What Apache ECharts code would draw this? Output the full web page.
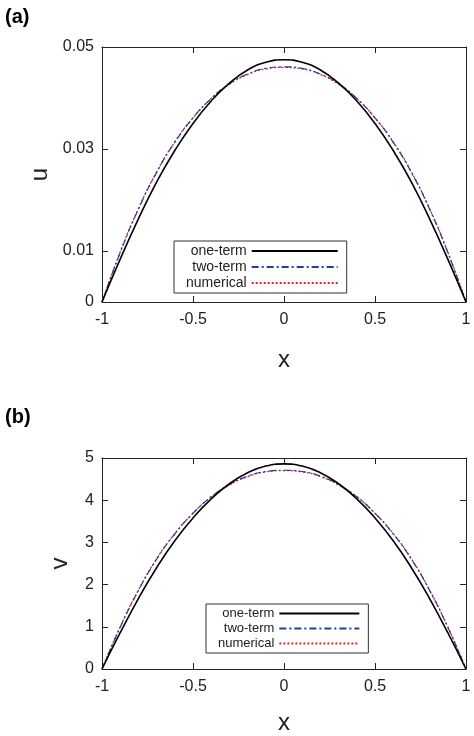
<!DOCTYPE html>
<html><head><meta charset="utf-8">
<script src="https://cdn.jsdelivr.net/npm/echarts@6/dist/echarts.min.js"></script>
<style>html,body{margin:0;padding:0;background:#fff}#c{width:474px;height:736px}</style>
</head><body><div id="c"></div>
<script>
const xs = [-1,-0.9,-0.8,-0.7,-0.6,-0.5,-0.4,-0.3,-0.2,-0.1,0,0.1,0.2,0.3,0.4,0.5,0.6,0.7,0.8,0.9,1];
const uOne = [0,0.0084,0.0163,0.0235,0.0297,0.0350,0.0394,0.0429,0.0455,0.0470,0.0475,0.0470,0.0455,0.0429,0.0394,0.0350,0.0297,0.0235,0.0163,0.0084,0];
const uTwo = [0,0.0097,0.0182,0.0254,0.0313,0.0361,0.0399,0.0428,0.0447,0.0458,0.0461,0.0458,0.0447,0.0428,0.0399,0.0361,0.0313,0.0254,0.0182,0.0097,0];
const uNum = [0,0.0098,0.0183,0.0255,0.0314,0.0361,0.0399,0.0427,0.0446,0.0457,0.0460,0.0457,0.0446,0.0427,0.0399,0.0361,0.0314,0.0255,0.0183,0.0098,0];
const vOne = [0,0.86,1.67,2.40,3.04,3.58,4.03,4.39,4.65,4.81,4.86,4.81,4.65,4.39,4.03,3.58,3.04,2.40,1.67,0.86,0];
const vTwo = [0,0.99,1.86,2.60,3.20,3.69,4.08,4.37,4.57,4.68,4.71,4.68,4.57,4.37,4.08,3.69,3.20,2.60,1.86,0.99,0];
const vNum = [0,1.00,1.87,2.61,3.21,3.69,4.08,4.36,4.56,4.67,4.70,4.67,4.56,4.36,4.08,3.69,3.21,2.61,1.87,1.00,0];
const uTicks = [0,0.01,0.03,0.05];
const vTicks = [0,1,2,3,4,5];
const xTicks = [-1,-0.5,0,0.5,1];
const names = ['one-term','two-term','numerical'];

const F = 'Liberation Sans, Arial, sans-serif';
const pair = (a,b)=>a.map((v,i)=>[v,b[i]]);
const grids = [{left:102,right:8,top:47,height:255},{left:102,right:8,top:458,height:267}];
const xAxis=[], yAxis=[];
[0,1].forEach(g=>{
  const base = {type:'value',min:-1,max:1,gridIndex:g,
    axisLine:{onZero:false,lineStyle:{color:'#222',width:1}},axisTick:{inside:true,length:6,lineStyle:{color:'#222'},customValues:xTicks},
    splitLine:{show:false}};
  xAxis.push(Object.assign({},base,{position:'bottom',name:'x',nameLocation:'middle',nameGap:g?42:46,
    nameTextStyle:{fontFamily:F,fontSize:24,color:'#222'},
    axisLabel:{fontFamily:F,fontSize:16,color:'#222',margin:10,customValues:xTicks,formatter:v=>String(v)}}));
  xAxis.push(Object.assign({},base,{position:'top',axisLabel:{show:false}}));
  const yt = g?vTicks:uTicks;
  const ybase = {type:'value',min:0,max:g?5:0.05,gridIndex:g,
    axisLine:{onZero:false,lineStyle:{color:'#222',width:1}},axisTick:{inside:true,length:6,lineStyle:{color:'#222'},customValues:yt},
    splitLine:{show:false}};
  yAxis.push(Object.assign({},ybase,{position:'left',name:g?'v':'u',nameLocation:'middle',nameGap:g?30:28,nameRotate:90,
    nameTextStyle:{fontFamily:F,fontSize:24,color:'#222'},
    axisLabel:{fontFamily:F,fontSize:16,color:'#222',margin:8,customValues:yt,formatter:v=>String(v)}}));
  yAxis.push(Object.assign({},ybase,{position:'right',axisLabel:{show:false}}));
});
const styles=[{color:'#000',width:1.6,type:'solid'},{color:'#2040a0',width:1.2,type:[7,3,2,3]},{color:'#e02020',width:1.3,type:[2,2]}];
const data=[[uOne,uTwo,uNum],[vOne,vTwo,vNum]];
const series=[];
[0,1].forEach(g=>names.forEach((n,i)=>series.push({type:'line',name:n,xAxisIndex:2*g,yAxisIndex:2*g,
  data:pair(xs,data[g][i]),smooth:true,symbol:'none',lineStyle:styles[i],itemStyle:{color:styles[i].color},z:3-i})));
const leg=(l,t,w,gap,fs)=>({data:names,left:l,top:t,orient:'vertical',align:'right',itemWidth:w,itemHeight:10,itemGap:gap,
  borderColor:'#333',borderWidth:1,padding:[3,8,3,12],backgroundColor:'#fff',selectedMode:false,
  itemStyle:{opacity:0},
  textStyle:{fontFamily:F,fontSize:fs,color:'#222'}});
echarts.init(document.getElementById('c')).setOption({
  animation:false,
  title:[{text:'(a)',left:0,top:2,textStyle:{fontFamily:F,fontSize:20,fontWeight:'bold',color:'#000'}},
         {text:'(b)',left:0,top:402,textStyle:{fontFamily:F,fontSize:20,fontWeight:'bold',color:'#000'}}],
  grid:grids,xAxis,yAxis,series,
  legend:[leg(174,241,86,2,14),leg(206,604,80,2,13)]
});
</script></body></html>
